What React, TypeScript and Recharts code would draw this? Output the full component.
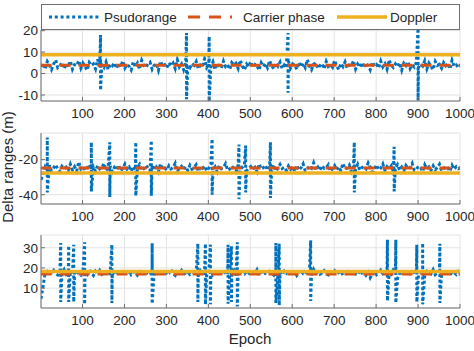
import React from 'react';
import { LineChart, Line, XAxis, YAxis, CartesianGrid, Legend } from 'recharts';

// ---------- data ----------
const EPOCH_START = 1;
const EPOCH_STEP = 5;
const X_TICKS = [100, 200, 300, 400, 500, 600, 700, 800, 900, 1000];

// Subplot 1
const PR1 = [
  3.2, 4.8, 2.1, 5.6, 3.9, 1.8, 4.4, 6.3, 2.7, 3.5, 5.1, 2.3, 4.6, 3.0, 5.8, 2.0, 4.1, 3.7, 6.0, 2.5,
  4.9, 3.3, 1.6, 5.2, 3.8, 4.5, 2.2, 6.6, 3.1, 4.0, 2.8, 5.4, 1.9, 4.3, 3.6, 5.0, 2.4, 4.7, 3.2, 5.9,
  2.6, 4.2, 3.4, 1.7, 5.5, 3.0, 4.8, 2.1, 6.1, 3.7, 2.9, 4.4, 5.3, 2.0, 3.9, 4.6, 1.5, 5.7, 3.3, 4.1,
  2.7, 5.0, 3.6, 4.9, 2.3, 6.4, 3.1, 4.5, 1.8, 5.2, 3.4, 2.6, 4.7, 3.8, 5.6, 2.2, 4.0, 3.5, 6.9, 2.8,
  4.3, 3.0, 5.4, 1.9, 4.6, 3.7, 2.5, 5.8, 3.2, 4.1, 2.0, 5.1, 3.9, 4.8, 2.4, 6.2, 3.5, 1.7, 4.4, 3.1,
  5.5, 2.9, 4.2, 3.6, 1.6, 5.0, 3.3, 4.7, 2.7, 6.0, 3.8, 2.1, 4.9, 3.4, 5.3, 2.3, 4.0, 3.0, 5.7, 2.6,
  4.5, 3.9, 2.0, 5.2, 3.1, 4.8, 2.8, 6.5, 3.6, 1.8, 4.3, 5.0, 2.4, 3.7, 4.6, 2.2, 5.6, 3.3, 4.1, 2.9,
  6.1, 3.5, 1.9, 4.7, 3.2, 5.4, 2.5, 4.0, 3.8, 5.9, 2.1, 4.4, 3.0, 5.1, 2.7, 4.9, 3.6, 1.7, 5.3, 3.4,
  4.2, 2.6, 5.8, 3.1, 4.6, 2.0, 6.3, 3.9, 2.8, 4.5, 3.3, 5.0, 1.6, 4.8, 3.7, 5.5, 2.3, 4.1, 3.0, 5.2,
  2.9, 4.4, 3.5, 6.0, 2.2, 4.9, 3.2, 1.8, 5.6, 3.8, 4.3, 2.5, 5.1, 3.6, 4.7, 2.1, 6.2, 3.4, 4.0, 2.7, 3.6,
];
// [epoch, high, low]
const SPIKES1 = [
  [143, 18.0, -7.8], [348, 18.9, -12.0], [402, 17.3, -12.9], [590, 18.9, -8.9], [900, 21.0, -12.5],
];

// Subplot 2
const PR2 = [
  -31.5, -28.4, -24.1, -25.8, -23.2, -26.3, -24.7, -22.9, -25.5, -26.8, -23.8, -25.1, -24.3, -26.1, -22.6, -25.9, -24.0, -26.5, -21.3, -25.2,
  -23.7, -26.0, -24.8, -22.8, -25.6, -24.2, -26.7, -23.4, -25.3, -24.6, -22.2, -26.2, -25.0, -23.6, -26.9, -24.4, -25.7, -23.1, -26.4, -24.9,
  -22.5, -25.4, -24.1, -26.6, -23.9, -25.8, -24.5, -22.7, -26.1, -25.2, -23.3, -24.8, -26.3, -23.0, -25.6, -24.2, -26.8, -22.4, -25.1, -24.7,
  -26.0, -23.5, -25.3, -24.4, -22.1, -26.5, -24.9, -23.8, -25.7, -24.0, -26.2, -23.2, -25.5, -24.6, -22.9, -26.7, -24.3, -25.0, -23.6, -26.4,
  -24.8, -22.6, -25.9, -24.1, -26.9, -23.4, -25.2, -24.5, -22.3, -26.1, -25.4, -23.7, -24.9, -26.6, -23.1, -25.8, -24.2, -22.8, -26.3, -25.0,
  -23.9, -25.6, -24.4, -26.8, -22.5, -25.3, -24.7, -23.3, -26.0, -24.1, -25.7, -23.0, -26.5, -24.8, -22.7, -25.1, -24.3, -26.2, -23.6, -25.5,
  -24.0, -26.7, -23.2, -25.9, -24.6, -22.4, -26.4, -25.2, -23.8, -24.9, -21.8, -25.7, -24.2, -26.1, -23.5, -25.0, -24.5, -22.9, -26.6, -25.3,
  -23.4, -25.8, -24.1, -26.3, -22.2, -25.4, -24.8, -23.1, -26.9, -24.4, -25.6, -22.7, -26.0, -24.6, -23.7, -25.2, -21.9, -24.3, -28.6, -25.1,
  -23.0, -25.7, -24.9, -22.5, -26.2, -24.0, -25.5, -23.6, -26.8, -24.7, -22.8, -25.9, -24.2, -26.4, -23.3, -25.0, -24.5, -22.1, -26.1, -25.4,
  -23.8, -24.6, -26.7, -22.9, -25.3, -24.1, -26.0, -23.5, -25.8, -24.4, -22.6, -26.3, -25.1, -23.9, -24.8, -26.6, -23.2, -25.5, -24.0, -25.2, -24.6,
];
const SPIKES2 = [
  [16, -7.4, -38.7], [121, -10.1, -38.1], [165, -10.1, -41.3], [227, -10.1, -40.6], [264, -9.1, -40.6],
  [409, -8.2, -40.0], [473, -11.4, -42.5], [489, -12.0, -38.7], [548, -10.1, -41.9], [748, -10.1, -38.7],
  [843, -12.7, -38.1],
];

// Subplot 3
const PR3 = [
  4.8, 11.2, 17.6, 18.3, 16.9, 17.8, 18.9, 17.1, 16.5, 18.1, 17.4, 19.2, 16.8, 17.9, 18.5, 16.6, 17.3, 18.7, 17.0, 16.4,
  18.2, 17.5, 16.7, 19.0, 17.7, 16.3, 18.4, 17.2, 18.8, 16.9, 17.6, 18.1, 16.5, 17.9, 19.3, 17.1, 16.8, 18.6, 17.4, 16.6,
  18.0, 17.3, 18.9, 16.7, 17.8, 18.4, 16.4, 17.5, 19.1, 17.0, 16.9, 18.3, 17.6, 16.5, 18.7, 17.2, 18.1, 16.8, 17.9, 18.5,
  16.6, 17.4, 19.4, 17.1, 16.3, 18.2, 17.7, 18.8, 16.9, 17.5, 18.0, 16.7, 17.3, 19.0, 17.8, 16.4, 18.6, 17.0, 18.3, 16.8,
  17.6, 18.9, 16.5, 17.2, 18.4, 17.9, 16.6, 19.2, 17.4, 16.8, 18.1, 17.0, 18.7, 16.3, 17.7, 18.5, 17.1, 16.9, 18.2, 17.5,
  16.7, 18.0, 17.3, 19.1, 16.4, 17.8, 18.6, 17.2, 16.9, 18.3, 17.6, 16.5, 18.8, 17.0, 17.9, 16.6, 18.4, 17.4, 19.0, 16.8,
  17.5, 18.2, 16.3, 17.7, 18.9, 17.1, 16.7, 18.5, 17.8, 16.4, 19.3, 17.3, 18.0, 16.9, 17.6, 18.7, 17.0, 16.6, 18.1, 17.4,
  18.6, 16.8, 17.9, 18.3, 16.5, 17.2, 19.1, 17.7, 16.9, 18.4, 17.0, 16.6, 18.8, 17.5, 18.1, 16.4, 17.8, 15.2, 17.3, 18.5,
  16.7, 17.6, 18.9, 17.1, 16.3, 18.2, 17.4, 16.8, 19.0, 17.9, 14.8, 17.2, 18.6, 16.5, 17.7, 18.3, 17.0, 16.9, 18.0, 17.5,
  16.6, 18.7, 17.3, 16.4, 18.4, 17.8, 17.1, 19.2, 16.7, 17.6, 18.1, 16.9, 17.4, 18.8, 17.2, 16.5, 18.0, 17.7, 16.8, 18.3, 17.6,
];
const SPIKES3 = [
  [48, 32.3, 3.2], [67, 31.0, 3.2], [79, 31.5, 3.2], [105, 32.7, 2.0], [170, 31.5, 2.7],
  [266, 32.3, 2.3], [375, 32.0, 3.2], [393, 32.0, 2.0], [405, 31.5, 2.0], [447, 31.5, 2.3],
  [455, 30.7, 3.2], [469, 32.7, 1.0], [561, 32.3, 2.7], [569, 32.0, 1.5], [644, 33.7, 3.7],
  [827, 34.0, 3.7], [847, 34.0, 2.7], [897, 31.5, 3.2], [911, 32.3, 2.0], [952, 32.0, 2.7],
];

// constant carrier phase / Doppler levels per subplot
const CARRIER = [3.9, -24.8, 17.0];
const DOPPLER = [8.8, -27.6, 18.2];

const Y_DOMAINS: [number, number][] = [[-12.8, 20.3], [-45.3, -4.8], [0.2, 36.3]];
const Y_TICKS = [[-10, 0, 10, 20], [-40, -20], [10, 20, 30]];

const SERIES_NAMES = ['Psudorange', 'Carrier phase', 'Doppler'];

// ---------- styles ----------
const BLUE = '#0072BD';
const ORANGE = '#D95319';
const YELLOW = '#EDB120';
const AXIS = '#6e6e6e';
const GRID = '#e2e2e2';
const TXT = '#262626';
const FONT = '"Liberation Sans", Arial, Helvetica, sans-serif';

function buildPr(values: number[], spikes: number[][]) {
  const rows: { epoch: number; v: number }[] = [];
  values.forEach((v, i) => {
    const e = EPOCH_START + i * EPOCH_STEP;
    rows.push({ epoch: e, v });
    spikes
      .filter((s) => s[0] >= e && s[0] < e + EPOCH_STEP)
      .forEach((s) => {
        rows.push({ epoch: s[0], v: s[1] });
        rows.push({ epoch: s[0], v: s[2] });
      });
  });
  return rows;
}

function flat(level: number) {
  return [
    { epoch: 0, v: level },
    { epoch: 1001, v: level },
  ];
}

const LegendBox = () => (
  <svg width={419} height={26} style={{ display: 'block' }}>
    <rect x={0.5} y={0.5} width={418} height={25} fill="#fff" stroke={AXIS} strokeWidth={1} />
    <line x1={8} y1={13} x2={59} y2={13} stroke={BLUE} strokeWidth={3} strokeDasharray="3 2.8" />
    <text x={63} y={13} dy="0.36em" fontSize={13.5} fill={TXT}>{SERIES_NAMES[0]}</text>
    <line x1={147} y1={13} x2={191} y2={13} stroke={ORANGE} strokeWidth={3} strokeDasharray="12 9" />
    <text x={202} y={13} dy="0.36em" fontSize={13.5} fill={TXT}>{SERIES_NAMES[1]}</text>
    <line x1={296} y1={13} x2={346} y2={13} stroke={YELLOW} strokeWidth={3.5} />
    <text x={349} y={13} dy="0.36em" fontSize={13.5} fill={TXT}>{SERIES_NAMES[2]}</text>
  </svg>
);

type PanelProps = {
  idx: number;
  top: number;
  height: number;
  marginTop: number;
  xAxisHeight: number;
  pr: number[];
  spikes: number[][];
  legend?: boolean;
};

const Panel = ({ idx, top, height, marginTop, xAxisHeight, pr, spikes, legend }: PanelProps) => {
  const prData = buildPr(pr, spikes);
  const tickStyle = { fill: TXT, fontSize: 13.5 };
  return (
    <div style={{ position: 'absolute', left: 0, top, width: 474, height }}>
      <LineChart width={474} height={height} margin={{ top: marginTop, right: 14, bottom: 0, left: 0 }}>
        <CartesianGrid stroke={GRID} strokeWidth={1} />
        <XAxis
          xAxisId={0}
          type="number"
          dataKey="epoch"
          domain={[1, 1000]}
          ticks={X_TICKS}
          allowDataOverflow
          height={xAxisHeight}
          tickSize={-4}
          tickMargin={11.5}
          tick={tickStyle}
          stroke={AXIS}
          interval={0}
        />
        <XAxis
          xAxisId="top"
          orientation="top"
          type="number"
          dataKey="epoch"
          domain={[1, 1000]}
          ticks={X_TICKS}
          allowDataOverflow
          height={0}
          tickSize={-4}
          tick={false}
          stroke={AXIS}
          interval={0}
        />
        <YAxis
          yAxisId={0}
          type="number"
          domain={Y_DOMAINS[idx]}
          ticks={Y_TICKS[idx]}
          allowDataOverflow
          width={41}
          tickSize={-4}
          tickMargin={7}
          tick={tickStyle}
          stroke={AXIS}
          interval={0}
        />
        <YAxis
          yAxisId="r"
          orientation="right"
          type="number"
          domain={Y_DOMAINS[idx]}
          ticks={Y_TICKS[idx]}
          allowDataOverflow
          width={0}
          tickSize={-4}
          tick={false}
          stroke={AXIS}
          interval={0}
        />
        {legend && (
          <Legend
            layout="horizontal"
            verticalAlign="middle"
            align="center"
            content={() => <LegendBox />}
            wrapperStyle={{ position: 'absolute', top: 4, left: 41, width: 419, height: 26 }}
          />
        )}
        <Line
          data={prData}
          dataKey="v"
          name={SERIES_NAMES[0]}
          type="linear"
          stroke={BLUE}
          strokeWidth={3}
          strokeDasharray="3 2.4"
          dot={false}
          activeDot={false}
          isAnimationActive={false}
        />
        <Line
          data={flat(CARRIER[idx])}
          dataKey="v"
          name={SERIES_NAMES[1]}
          type="linear"
          stroke={ORANGE}
          strokeWidth={3}
          strokeDasharray="11 8"
          dot={false}
          activeDot={false}
          isAnimationActive={false}
        />
        <Line
          data={flat(DOPPLER[idx])}
          dataKey="v"
          name={SERIES_NAMES[2]}
          type="linear"
          stroke={YELLOW}
          strokeWidth={3.5}
          dot={false}
          activeDot={false}
          isAnimationActive={false}
        />
      </LineChart>
    </div>
  );
};

export default function App() {
  return (
    <div
      style={{
        position: 'absolute',
        left: 0,
        top: 0,
        width: 474,
        height: 351,
        background: '#fff',
        fontFamily: FONT,
        overflow: 'hidden',
      }}
    >
      <Panel idx={0} top={0} height={125} marginTop={30} xAxisHeight={24} pr={PR1} spikes={SPIKES1} legend />
      <Panel idx={1} top={125} height={100} marginTop={8} xAxisHeight={21} pr={PR2} spikes={SPIKES2} />
      <Panel idx={2} top={225} height={126} marginTop={10} xAxisHeight={43} pr={PR3} spikes={SPIKES3} />
      <svg
        width={474}
        height={351}
        style={{ position: 'absolute', left: 0, top: 0, pointerEvents: 'none' }}
      >
        <text x={250} y={344} textAnchor="middle" fontSize={15} fill={TXT}>Epoch</text>
        <text
          x={0}
          y={0}
          transform="translate(13,167) rotate(-90)"
          textAnchor="middle"
          fontSize={15}
          fill={TXT}
        >
          Delta ranges (m)
        </text>
      </svg>
    </div>
  );
}
